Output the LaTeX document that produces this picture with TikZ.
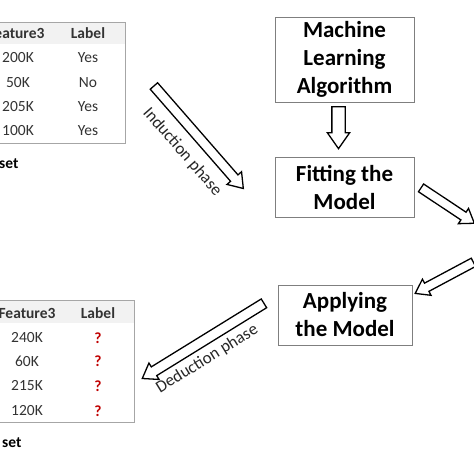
\documentclass[tikz,border=0pt]{standalone}
\usepackage{fontspec}
\setmainfont{Carlito}
\usetikzlibrary{calc}
\usetikzlibrary{shapes.arrows}

\definecolor{boxline}{HTML}{7F7F7F}
\definecolor{tabline}{HTML}{A6A6A6}
\definecolor{headfill}{HTML}{F2F2F2}
\definecolor{celltext}{HTML}{333333}
\definecolor{qred}{HTML}{C00000}

\begin{document}
\begin{tikzpicture}[x=1pt, y=-1pt,
    stepbox/.style={draw=boxline, line width=1pt, align=center, minimum width=139pt, minimum height=60pt,
        font=\fontsize{23}{28}\selectfont\bfseries},
    hollow/.style={single arrow, draw=black, line width=1.3pt, inner xsep=0pt, anchor=tail,
        minimum width=0pt, single arrow tip angle=70},
    cell/.style={text=celltext, font=\fontsize{15.5}{18}\selectfont},
    headcell/.style={cell, font=\fontsize{15.5}{18}\selectfont\bfseries},
    phase/.style={inner sep=0pt, text=black!85, font=\fontsize{17}{20}\selectfont}]

    \useasboundingbox (0,0) rectangle (474,474);
    \clip (0,0) rectangle (474,474);

    % training table (cut at the left)
    \fill[headfill] (-60,22) rectangle (125,44);
    \draw[tabline, line width=1pt] (-60,22) rectangle (125,143);
    \node[headcell] (trainhead) at (16,33) {Feature3};
    \node[headcell] (trainlab) at (88,33) {Label};
    \foreach \y/\val/\lab in {58/200K/Yes, 83/50K/No, 107/205K/Yes, 131/100K/Yes} {
        \node[cell] at (18,\y) {\val};
        \node[cell] at (88,\y) {\lab};
    }
    \node[headcell, text=black, anchor=west, inner sep=0pt] (trainset) at (-1,164) {set};

    % test table (cut at the left)
    \fill[headfill] (-60,300) rectangle (134,323);
    \draw[tabline, line width=1pt] (-60,300) rectangle (134,422);
    \node[headcell] (testhead) at (27,313) {Feature3};
    \node[headcell] (testlab) at (98,313) {Label};
    \foreach \y/\val in {338/240K, 361/60K, 386/215K, 411/120K} {
        \node[cell] at (27,\y) {\val};
        \node[cell, text=qred, font=\fontsize{15.5}{18}\selectfont\bfseries] at (98,\y) {?};
    }
    \node[headcell, text=black, anchor=west, inner sep=0pt] (testset) at (2,443) {set};

    % boxes on the right
    \node[stepbox, minimum height=85pt] (mlbox) at (344.5,59.5) {Machine\\Learning\\Algorithm};
    \node[stepbox] (fitbox) at (344.5,187) {Fitting the\\Model};
    \node[stepbox, minimum width=134pt] (applybox) at (345,315) {Applying\\the Model};

    % hollow block arrows
    \node[hollow, minimum height=42pt, inner ysep=6pt, single arrow head extend=4.5pt, rotate=-90]
        (downarrow) at (338.5,106) {};
    \node[hollow, minimum height=136pt, inner ysep=4.25pt, single arrow head extend=4.75pt, rotate=-48.9]
        (indarrow) at (153.5,85.5) {};
    \node[hollow, minimum height=64pt, inner ysep=4pt, single arrow head extend=4.5pt, rotate=-33.6]
        (outarrow) at (420.5,187.5) {};
    \node[hollow, minimum height=66pt, inner ysep=4pt, single arrow head extend=4.5pt, rotate=208.1]
        (inarrow) at (474,262) {};
    \node[hollow, minimum height=143pt, inner ysep=4.5pt, single arrow head extend=4.5pt, rotate=211.7]
        (dedarrow) at (264.5,303) {};

    % phase labels
    \path (indarrow.tail) -- (indarrow.tip)
        node[phase, midway, sloped, below=14.5pt] (indlabel) {Induction phase};
    \path (dedarrow.tip) -- (dedarrow.tail)
        node[phase, pos=0.46, sloped, below=10pt] (dedlabel) {Deduction phase};

\end{tikzpicture}
\end{document}
